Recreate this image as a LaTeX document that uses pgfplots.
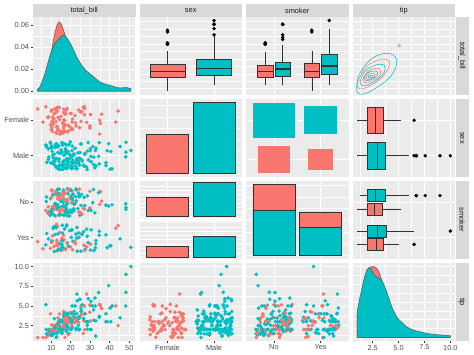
\documentclass[border=0pt]{standalone}
\usepackage{pgfplots}
\pgfplotsset{compat=1.18}
\usepackage{pgfplotstable}
\usepgfplotslibrary{statistics}
\usepackage{fontspec}
\setmainfont{Liberation Sans}
\definecolor{fem}{RGB}{248,118,109}
\definecolor{mal}{RGB}{0,191,196}
\definecolor{panelbg}{RGB}{235,235,235}
\definecolor{stripbg}{RGB}{217,217,217}
\definecolor{g20}{RGB}{51,51,51}
\definecolor{g30}{RGB}{77,77,77}
\definecolor{g10}{RGB}{26,26,26}
\definecolor{dens}{RGB}{80,80,80}
\newcommand\tickfont{\fontsize{7.4}{8.8}\selectfont}

\pgfplotstableread{
b t s k a c
16.99 1.01 1 1 0.12 -0.25
10.34 1.66 2 1 -0.27 0.31
21.01 3.50 2 1 0.35 -0.06
23.68 3.31 2 1 -0.08 0.18
24.59 3.61 1 1 0.21 -0.37
25.29 4.71 2 1 -0.33 0.09
8.77 2.00 2 1 0.04 0.27
26.88 3.12 2 1 0.29 -0.14
15.04 1.96 2 1 -0.16 0.35
14.78 3.23 2 1 0.38 -0.03
10.27 1.71 2 1 -0.22 0.22
35.26 5.00 1 1 0.09 -0.30
15.42 1.57 2 1 -0.37 0.13
18.43 3.00 2 1 0.17 0.38
14.83 3.02 1 1 0.31 -0.19
21.58 3.92 2 1 -0.05 0.05
10.33 1.67 1 1 -0.29 0.29
16.29 3.71 2 1 0.24 -0.34
16.97 3.50 1 1 0.01 0.16
20.65 3.35 2 1 -0.14 -0.09
17.92 4.08 2 1 0.36 0.02
20.29 2.75 1 1 -0.19 0.26
15.77 2.23 1 1 0.07 -0.28
39.42 7.58 2 1 -0.34 0.11
19.82 3.18 2 1 0.27 -0.36
17.81 2.34 2 1 0.13 0.33
13.37 2.00 2 1 -0.25 0.07
12.69 2.00 2 1 0.33 -0.21
21.70 4.30 2 1 -0.02 0.24
19.65 3.00 1 1 0.19 -0.12
9.55 1.45 2 1 -0.38 0.37
18.35 2.50 2 1 0.26 -0.05
15.06 3.00 1 1 -0.11 0.19
20.69 2.45 1 1 0.05 -0.32
17.78 3.27 2 1 -0.31 0.28
24.06 3.60 2 1 0.22 -0.16
16.31 2.00 2 1 0.37 0.10
16.93 3.07 1 1 -0.18 0.34
18.69 2.31 2 1 0.10 -0.24
31.27 5.00 2 1 -0.26 0.01
16.04 2.24 2 1 0.30 -0.29
17.46 2.54 2 1 -0.07 0.14
13.94 3.06 2 1 0.16 0.36
9.68 1.32 2 1 -0.35 -0.10
30.40 5.60 2 1 0.02 0.23
18.29 3.00 2 1 0.25 -0.38
22.23 5.00 2 1 -0.21 0.04
32.40 6.00 2 1 0.34 0.30
28.55 2.05 2 1 -0.13 -0.18
18.04 3.00 2 1 0.08 0.25
12.54 2.50 2 1 -0.30 0.12
10.29 2.60 1 1 0.20 -0.35
34.81 5.20 1 1 0.39 0.06
9.94 1.56 2 1 -0.24 0.27
25.56 4.34 2 1 0.11 -0.22
19.49 3.51 2 1 -0.03 0.39
38.01 3.00 2 2 0.28 -0.08
26.41 1.50 1 1 -0.36 0.17
11.24 1.76 2 2 0.15 -0.31
48.27 6.73 2 1 -0.10 0.20
20.29 3.21 2 2 0.32 -0.01
13.81 2.00 2 2 -0.28 0.32
11.02 1.98 2 2 0.06 -0.26
18.29 3.76 2 2 0.23 0.15
17.59 2.64 2 1 -0.17 0.08
20.08 3.15 2 1 0.35 -0.33
16.45 2.47 1 1 -0.01 0.24
3.07 1.00 1 2 -0.32 0.11
20.23 2.01 2 1 0.18 -0.17
15.01 2.09 2 2 0.27 0.36
12.02 1.97 2 1 -0.23 0.03
17.07 3.00 1 1 0.14 -0.27
26.86 3.14 1 2 -0.39 0.21
25.28 5.00 1 2 0.03 -0.11
14.73 2.20 1 1 0.31 0.30
10.51 1.25 2 1 -0.12 0.18
17.92 3.08 2 2 0.24 -0.36
27.20 4.00 2 1 -0.06 0.09
22.76 3.00 2 1 0.37 -0.04
17.29 2.71 2 1 -0.20 0.26
19.44 3.00 2 2 0.09 -0.20
16.66 3.40 2 1 -0.34 0.35
10.07 1.83 1 1 0.26 -0.13
32.68 5.00 2 2 -0.15 0.28
15.98 2.03 2 1 0.19 0.00
34.83 5.17 1 1 0.00 -0.30
13.03 2.00 2 1 -0.27 0.19
18.28 4.00 2 1 0.33 -0.07
24.71 5.85 2 1 -0.09 0.37
21.16 3.00 2 1 0.12 -0.23
28.97 3.00 2 2 -0.37 0.14
22.49 3.50 2 1 0.29 -0.16
5.75 1.00 1 2 0.05 0.31
16.32 4.30 1 2 -0.22 0.06
22.75 3.25 1 1 0.16 -0.38
40.17 4.73 2 2 0.38 0.22
27.28 4.00 2 2 -0.04 0.33
12.03 1.50 2 2 -0.30 -0.09
21.01 3.00 2 2 0.21 0.10
12.46 1.50 2 1 0.10 -0.28
11.35 2.50 1 2 -0.18 0.25
15.38 3.00 1 2 0.34 0.02
44.30 2.50 1 2 -0.26 -0.34
22.42 3.48 1 2 0.07 0.17
20.92 4.08 1 1 0.25 -0.12
15.36 1.64 2 2 -0.11 0.29
20.49 4.06 2 2 0.36 -0.21
25.21 4.29 2 2 -0.33 0.38
18.24 3.76 2 1 0.13 0.04
14.31 4.00 1 2 -0.02 -0.15
14.00 3.00 2 1 0.27 -0.37
7.25 1.00 1 1 -0.38 0.23
38.07 4.00 2 1 0.20 0.08
23.95 2.55 2 1 0.08 -0.26
25.71 4.00 1 1 -0.24 0.34
17.31 3.50 1 1 0.31 -0.03
29.93 5.07 2 1 -0.14 0.20
10.65 1.50 1 1 0.01 0.12
12.43 1.80 1 1 0.35 -0.31
24.08 2.92 1 1 -0.29 0.27
11.69 2.31 2 1 0.17 0.05
13.42 1.68 1 1 -0.08 -0.19
14.26 2.50 2 1 0.28 0.36
15.95 2.00 2 1 -0.35 -0.08
12.48 2.52 1 1 0.04 -0.29
29.80 4.20 1 1 0.22 0.16
8.52 1.48 2 1 -0.19 0.31
14.52 2.00 1 1 0.39 -0.14
11.38 2.00 1 1 -0.05 0.21
22.82 2.18 2 1 0.15 -0.35
19.08 1.50 2 1 -0.31 0.28
20.27 2.83 1 1 0.26 0.01
11.17 1.50 1 1 0.11 -0.22
12.26 2.00 1 1 -0.21 0.39
18.26 3.25 1 1 0.33 -0.06
8.51 1.25 1 1 -0.10 0.13
10.33 2.00 1 1 0.06 -0.32
14.15 2.00 1 1 -0.36 0.24
16.00 2.00 2 2 0.24 0.09
13.16 2.75 1 1 0.18 -0.18
17.47 3.50 1 1 -0.28 0.33
34.30 6.70 2 1 0.02 -0.27
41.19 5.00 2 1 0.37 0.07
27.05 5.00 1 1 -0.16 0.19
16.43 2.30 1 1 0.29 -0.11
8.35 1.50 1 1 -0.07 0.30
18.64 1.36 1 1 0.14 -0.37
11.87 1.63 1 1 -0.32 0.15
9.78 1.73 2 1 0.20 0.26
7.51 2.00 2 1 -0.25 -0.02
14.07 2.50 2 1 0.09 -0.24
13.13 2.00 2 1 0.34 0.10
17.26 2.74 2 1 -0.13 0.35
24.55 2.00 2 1 0.27 -0.16
19.77 2.00 2 1 -0.39 0.22
29.85 5.14 1 1 0.16 -0.31
48.17 5.00 2 1 0.03 0.04
25.00 3.75 1 1 -0.23 0.29
13.39 2.61 1 1 0.30 -0.09
16.49 2.00 2 1 -0.01 0.37
21.50 3.50 2 1 0.21 0.18
12.66 2.50 2 1 -0.34 0.06
16.21 2.00 1 1 0.12 -0.28
13.81 2.00 2 1 0.38 0.13
17.51 3.00 1 2 -0.18 0.32
24.52 3.48 2 1 0.07 -0.20
20.76 2.24 2 1 -0.27 0.25
31.71 4.50 2 1 0.25 -0.36
10.59 1.61 1 2 -0.09 0.11
10.63 2.00 1 2 0.32 -0.05
50.81 10.00 2 2 -0.15 0.27
15.81 3.16 2 2 0.19 -0.13
7.25 5.15 2 2 -0.30 0.20
31.85 3.18 2 2 0.04 0.36
16.82 4.00 2 2 0.35 -0.25
32.90 3.11 2 2 -0.21 0.08
17.89 2.00 2 2 0.28 -0.33
14.48 2.00 2 2 -0.06 0.16
9.60 4.00 1 2 0.13 0.30
34.63 3.55 2 2 -0.37 -0.07
34.65 3.68 2 2 0.23 -0.18
23.33 5.65 2 2 0.10 0.38
45.35 3.50 2 2 -0.26 0.03
23.17 6.50 2 2 0.36 -0.29
40.55 3.00 2 2 -0.12 0.23
20.69 5.00 2 1 0.30 -0.10
20.90 3.50 1 2 -0.03 0.34
30.46 2.00 2 2 0.17 -0.22
18.15 3.50 1 2 -0.33 0.14
23.10 4.00 2 2 0.08 0.01
15.69 1.50 2 2 0.26 -0.35
19.81 4.19 1 2 -0.19 0.26
28.44 2.56 2 2 0.39 -0.04
15.48 2.02 2 2 -0.08 0.19
16.58 4.00 2 2 0.14 0.31
7.56 1.44 2 1 -0.29 -0.15
10.34 2.00 2 2 0.22 0.09
43.11 5.00 1 2 0.05 -0.27
13.00 2.00 1 2 -0.36 0.37
13.51 2.00 2 2 0.31 -0.11
18.71 4.00 2 2 -0.11 0.24
12.74 2.01 1 2 0.18 -0.38
13.00 2.00 1 2 -0.24 0.12
16.40 2.50 1 2 0.33 0.05
20.53 4.00 2 2 0.01 -0.23
16.47 3.23 1 2 -0.31 0.33
26.59 3.41 2 2 0.27 -0.17
38.73 3.00 2 2 -0.14 0.28
24.27 2.03 2 2 0.09 -0.01
12.76 2.23 1 2 0.37 0.20
30.06 2.00 2 2 -0.20 0.35
25.89 5.16 2 2 0.15 -0.09
48.33 9.00 2 1 -0.38 0.15
13.27 2.50 1 2 0.24 -0.32
28.17 6.50 1 2 0.06 0.26
12.90 1.10 1 2 -0.27 0.07
28.15 3.00 2 2 0.32 -0.24
11.59 1.50 2 2 -0.04 0.39
7.74 1.44 2 2 0.19 -0.12
30.14 3.09 1 2 -0.16 0.18
12.16 2.20 2 2 0.29 -0.30
13.42 3.48 1 2 -0.35 0.22
8.58 1.92 2 2 0.11 0.03
15.98 3.00 1 1 0.36 -0.19
13.42 1.58 2 2 -0.09 0.34
16.27 2.50 1 2 0.21 -0.06
10.09 2.00 1 2 -0.25 0.13
20.45 3.00 2 1 0.03 0.29
13.28 2.72 2 1 0.34 -0.36
22.12 2.88 1 2 -0.13 0.10
24.01 2.00 2 2 0.16 -0.14
15.69 3.00 2 2 -0.30 0.25
11.61 3.39 2 1 0.25 0.37
10.77 1.47 2 1 -0.02 -0.21
15.53 3.00 2 2 0.38 0.08
10.07 1.25 2 1 -0.22 0.31
12.60 1.00 2 2 0.07 -0.28
32.83 1.17 2 2 0.28 0.17
35.83 4.67 1 1 -0.17 -0.03
29.03 5.92 2 1 0.12 0.23
27.18 2.00 1 2 -0.33 0.36
22.67 2.00 2 2 0.20 -0.10
17.82 1.75 2 1 -0.07 0.19
18.78 3.00 1 1 0.31 -0.33
}\tips

\pgfplotsset{
 colormap={fm}{rgb255=(248,118,109) rgb255=(0,191,196)},
 gg/.style={
  scale only axis, width=102.5pt, height=78pt, anchor=north west,
  enlargelimits=false,
  axis line style={draw=none},
  axis background/.style={fill=panelbg},
  grid=both,
  major grid style={white, line width=0.8pt},
  minor grid style={white, line width=0.4pt},
  tick align=outside, major tick length=2.5pt, minor tick length=0pt,
  xtick pos=lower, ytick pos=left,
  xtick style={draw=none}, ytick style={draw=none},
  xticklabels={}, yticklabels={},
  tick label style={font=\tickfont, text=g30, inner sep=1.2pt},
  colormap name=fm, point meta min=1, point meta max=2,
 },
 showx/.style={xtick style={draw=g20, line width=0.5pt}},
 showy/.style={ytick style={draw=g20, line width=0.5pt}},
 xbill/.style={xmin=0.68, xmax=53.2, xtick={10,20,30,40,50}, minor xtick={5,15,25,35,45}},
 xtip/.style={xmin=0.55, xmax=10.45, xtick={2.5,5,7.5,10}, minor xtick={1.25,3.75,6.25,8.75}},
 xcat/.style={xmin=0.4, xmax=2.6, xtick={1,2}},
 ybill/.style={ymin=0.68, ymax=53.2, ytick={10,20,30,40,50}, minor ytick={5,15,25,35,45}},
 ytip/.style={ymin=0.55, ymax=10.45, ytick={2.5,5,7.5,10}, minor ytick={1.25,3.75,6.25,8.75}},
 ycat/.style={ymin=0.4, ymax=2.6, ytick={1,2}, y dir=reverse},
 pts/.style={scatter, only marks, mark=*, mark size=1.65pt, scatter src=explicit,
   scatter/use mapped color={draw=mapped color, fill=mapped color}},
 bx/.style={draw=g20, line width=0.5pt, boxplot/whisker extend=0,
   boxplot/every median/.style={line width=1.2pt}},
 out/.style={only marks, mark=*, mark size=1.55pt, black},
 ct/.style={line width=0.55pt, smooth, tension=0.5},
 bar/.style={ybar, bar width=0.9, bar shift=0pt, draw=g20, line width=0.4pt},
}

\begin{document}
\begin{tikzpicture}
% ---------------- row 1 ----------------
\begin{axis}[gg, at={(33pt,338pt)}, xbill, ymin=-0.0035, ymax=0.0677,
  ytick={0,0.02,0.04,0.06}, minor ytick={0.01,0.03,0.05},
  yticklabels={0.00,0.02,0.04,0.06}, showy]
\addplot[fill=fem, draw=dens, line width=0.45pt] coordinates {
(3.07,0.0020) (4.5,0.0035) (6.0,0.0070) (7.0,0.0115) (8.0,0.0180) (9.0,0.0260)
(10.0,0.0350) (11.0,0.0450) (12.0,0.0540) (13.0,0.0605) (14.0,0.0633) (15.0,0.0620)
(16.0,0.0575) (17.0,0.0520) (18.0,0.0470) (19.0,0.0430) (20.0,0.0390) (21.0,0.0345)
(22.0,0.0300) (23.0,0.0260) (24.0,0.0220) (25.0,0.0190) (26.0,0.0165) (27.0,0.0148)
(28.0,0.0135) (29.0,0.0125) (30.0,0.0112) (31.0,0.0095) (32.0,0.0082) (33.0,0.0078)
(34.0,0.0078) (35.0,0.0075) (36.0,0.0062) (37.0,0.0045) (38.0,0.0030) (39.0,0.0020)
(40.0,0.0015) (41.0,0.0015) (42.0,0.0018) (43.0,0.0021) (44.0,0.0020) (45.0,0.0014)
(46.0,0.0008) (47.0,0.0004) (48.0,0.0002) (50.81,0.0000)} \closedcycle;
\addplot[fill=mal, draw=dens, line width=0.45pt] coordinates {
(3.07,0.0010) (4.26,0.0040) (5.5,0.0095) (6.82,0.0161) (8.1,0.0245) (9.38,0.0329)
(10.66,0.0388) (11.94,0.0435) (13.22,0.0466) (14.5,0.0487) (15.35,0.0502) (16.21,0.0511)
(17.2,0.0502) (18.26,0.0481) (19.37,0.0450) (20.48,0.0414) (21.76,0.0365) (23.04,0.0314)
(24.32,0.0273) (25.6,0.0237) (26.88,0.0208) (28.16,0.0183) (29.44,0.0163) (30.72,0.0146)
(32.0,0.0126) (33.28,0.0107) (34.56,0.0090) (35.84,0.0076) (37.12,0.0068) (38.4,0.0061)
(39.68,0.0055) (40.96,0.0049) (42.24,0.0041) (43.52,0.0034) (44.8,0.0031) (46.08,0.0030)
(47.36,0.0032) (48.64,0.0034) (49.8,0.0028) (50.81,0.0022)} \closedcycle;
\end{axis}

\begin{axis}[gg, at={(139.5pt,338pt)}, xcat, ybill, boxplot/draw direction=y]
\addplot[bx, fill=fem, boxplot prepared={draw position=1, lower whisker=3.07, lower quartile=12.75,
  median=16.40, upper quartile=21.52, upper whisker=30.14, box extend=0.75}] coordinates {};
\addplot[bx, fill=mal, boxplot prepared={draw position=2, lower whisker=7.25, lower quartile=14.00,
  median=18.35, upper quartile=24.71, upper whisker=40.55, box extend=0.75}] coordinates {};
\addplot[out] coordinates {(1,34.81) (1,34.83) (1,35.26) (1,35.83) (1,43.11) (1,44.30)
  (2,41.19) (2,45.35) (2,48.17) (2,48.27) (2,48.33) (2,50.81)};
\end{axis}

\begin{axis}[gg, at={(246pt,338pt)}, xcat, ybill, boxplot/draw direction=y]
\addplot[bx, fill=fem, boxplot prepared={draw position=0.8125, lower whisker=7.25, lower quartile=12.3,
  median=16.6, upper quartile=20.4, upper whisker=29.85, box extend=0.3375}] coordinates {};
\addplot[bx, fill=mal, boxplot prepared={draw position=1.1875, lower whisker=7.51, lower quartile=13.5,
  median=18.24, upper quartile=22.4, upper whisker=34.3, box extend=0.3375}] coordinates {};
\addplot[bx, fill=fem, boxplot prepared={draw position=1.8125, lower whisker=3.07, lower quartile=12.3,
  median=16.27, upper quartile=21.9, upper whisker=30.14, box extend=0.3375}] coordinates {};
\addplot[bx, fill=mal, boxplot prepared={draw position=2.1875, lower whisker=7.25, lower quartile=14.8,
  median=20.2, upper quartile=28.3, upper whisker=45.35, box extend=0.3375}] coordinates {};
\addplot[out] coordinates {(0.8125,34.81) (0.8125,34.83) (0.8125,35.26) (0.8125,35.83)
  (1.1875,38.07) (1.1875,39.42) (1.1875,41.19) (1.1875,48.17) (1.1875,48.27) (1.1875,48.33)
  (1.8125,43.11) (1.8125,44.30) (2.1875,50.81)};
\end{axis}

\begin{axis}[gg, at={(352.5pt,338pt)}, xtip, ybill]
\addplot[ct, fem] coordinates {(1.017,8.54) (1.436,15.27) (2.08,20.88) (2.885,23.80) (3.69,24.92)
  (4.108,23.13) (4.011,18.64) (3.529,13.70) (2.885,9.66) (2.08,6.30) (1.436,4.73) (1.081,5.62) (1.017,8.54)};
\addplot[ct, fem] coordinates {(1.532,10.78) (1.854,15.27) (2.401,17.97) (3.046,18.64) (3.271,16.40)
  (3.046,13.03) (2.401,10.11) (1.758,8.99) (1.532,10.78)};
\addplot[ct, fem] coordinates {(1.854,12.36) (2.176,14.82) (2.627,15.27) (2.691,13.25) (2.305,11.46)
  (1.919,11.23) (1.854,12.36)};
\addplot[ct, fem] coordinates {(4.95,33.9) (5.07,34.8) (5.19,33.9) (5.07,33.0) (4.95,33.9)};
\addplot[ct, mal] coordinates {(0.953,6.30) (1.114,13.03) (1.597,19.09) (2.24,24.25) (3.046,27.62)
  (3.85,28.74) (4.494,27.62) (4.816,24.25) (4.752,19.76) (4.333,14.15) (3.69,9.66) (2.885,5.62)
  (2.08,2.48) (1.436,1.13) (1.017,2.48) (0.953,6.30)};
\addplot[ct, mal] coordinates {(1.275,9.66) (1.597,15.27) (2.24,19.09) (3.046,21.33) (3.593,20.88)
  (3.69,17.52) (3.368,13.70) (2.724,10.11) (1.983,7.42) (1.436,6.97) (1.275,9.66)};
\addplot[ct, mal] coordinates {(1.661,11.91) (1.983,15.27) (2.498,16.84) (2.949,16.40) (2.885,13.70)
  (2.401,11.23) (1.854,10.33) (1.661,11.91)};
\addplot[ct, mal] coordinates {(2.08,13.03) (2.305,14.15) (2.498,13.70) (2.369,12.36) (2.112,12.13) (2.08,13.03)};
\end{axis}

% ---------------- row 2 ----------------
\begin{axis}[gg, at={(33pt,256pt)}, xbill, ycat, yticklabels={Female,Male}, showy]
\addplot[pts] table[x=b, y expr=\thisrow{s}+\thisrow{a}, meta=s] {\tips};
\end{axis}

\begin{axis}[gg, at={(139.5pt,256pt)}, xcat, ymin=-7.85, ymax=164.85,
  ytick={0,50,100,150}, minor ytick={25,75,125}]
\addplot[bar, fill=fem] coordinates {(1,87)};
\addplot[bar, fill=mal] coordinates {(2,157)};
\end{axis}

\begin{axis}[gg, at={(246pt,256pt)}, xcat, ymin=0.56, ymax=2.54, ytick={1,2}]
\addplot[fill=mal, draw=none] coordinates {(0.55,1.55) (1.45,1.55) (1.45,2.45) (0.55,2.45)} -- cycle;
\addplot[fill=mal, draw=none] coordinates {(1.646,1.646) (2.354,1.646) (2.354,2.354) (1.646,2.354)} -- cycle;
\addplot[fill=fem, draw=none] coordinates {(0.664,0.664) (1.336,0.664) (1.336,1.336) (0.664,1.336)} -- cycle;
\addplot[fill=fem, draw=none] coordinates {(1.7375,0.7375) (2.2625,0.7375) (2.2625,1.2625) (1.7375,1.2625)} -- cycle;
\end{axis}

\begin{axis}[gg, at={(352.5pt,256pt)}, xtip, ycat, boxplot/draw direction=x]
\addplot[bx, fill=fem, boxplot prepared={draw position=1, lower whisker=1.0, lower quartile=2.0,
  median=2.75, upper quartile=3.5, upper whisker=5.2, box extend=0.75}] coordinates {};
\addplot[bx, fill=mal, boxplot prepared={draw position=2, lower whisker=1.0, lower quartile=2.0,
  median=3.0, upper quartile=3.76, upper whisker=6.0, box extend=0.75}] coordinates {};
\addplot[out] coordinates {(6.5,1) (6.5,2) (6.7,2) (6.73,2) (7.58,2) (9.0,2) (10.0,2)};
\end{axis}

% ---------------- row 3 ----------------
\begin{axis}[gg, at={(33pt,174pt)}, xbill, ycat, yticklabels={No,Yes}, showy]
\addplot[pts] table[x=b, y expr=\thisrow{k}+\thisrow{c}, meta=s] {\tips};
\end{axis}

\begin{axis}[gg, at={(139.5pt,174pt)}, height=37.15pt, xcat, ymin=-4.85, ymax=101.85,
  ytick={0,25,50,75}, minor ytick={12.5,37.5,62.5,87.5}]
\addplot[bar, fill=fem] coordinates {(1,54)};
\addplot[bar, fill=mal] coordinates {(2,97)};
\end{axis}
\begin{axis}[gg, at={(139.5pt,133.15pt)}, height=37.15pt, xcat, ymin=-4.85, ymax=101.85,
  ytick={0,25,50,75}, minor ytick={12.5,37.5,62.5,87.5}]
\addplot[bar, fill=fem] coordinates {(1,33)};
\addplot[bar, fill=mal] coordinates {(2,60)};
\end{axis}

\begin{axis}[gg, at={(246pt,174pt)}, xcat, ymin=-7.55, ymax=158.55,
  ytick={0,50,100,150}, minor ytick={25,75,125}]
\addplot[bar, fill=fem] coordinates {(1,151) (2,93)};
\addplot[bar, fill=mal] coordinates {(1,97) (2,60)};
\end{axis}

\begin{axis}[gg, at={(352.5pt,174pt)}, xtip, ycat, boxplot/draw direction=x]
\addplot[bx, fill=mal, boxplot prepared={draw position=0.8125, lower whisker=1.25, lower quartile=2.0,
  median=2.74, upper quartile=3.71, upper whisker=6.0, box extend=0.3375}] coordinates {};
\addplot[bx, fill=fem, boxplot prepared={draw position=1.1875, lower whisker=1.0, lower quartile=2.0,
  median=2.68, upper quartile=3.44, upper whisker=5.2, box extend=0.3375}] coordinates {};
\addplot[bx, fill=mal, boxplot prepared={draw position=1.8125, lower whisker=1.0, lower quartile=2.0,
  median=3.0, upper quartile=3.82, upper whisker=6.5, box extend=0.3375}] coordinates {};
\addplot[bx, fill=fem, boxplot prepared={draw position=2.1875, lower whisker=1.0, lower quartile=2.0,
  median=2.88, upper quartile=3.5, upper whisker=5.0, box extend=0.3375}] coordinates {};
\addplot[out] coordinates {(6.7,0.8125) (6.73,0.8125) (7.58,0.8125) (9.0,0.8125)
  (10.0,1.8125) (6.5,2.1875)};
\end{axis}

% ---------------- row 4 ----------------
\begin{axis}[gg, at={(33pt,92pt)}, xbill, ytip, showx, showy,
  xticklabels={10,20,30,40,50}, yticklabels={2.5,5.0,7.5,10.0}]
\addplot[pts] table[x=b, y=t, meta=s] {\tips};
\end{axis}

\begin{axis}[gg, at={(139.5pt,92pt)}, xcat, ytip, showx, xticklabels={Female,Male}]
\addplot[pts] table[x expr=\thisrow{s}+\thisrow{c}, y=t, meta=s] {\tips};
\end{axis}

\begin{axis}[gg, at={(246pt,92pt)}, xcat, ytip, showx, xticklabels={No,Yes}]
\addplot[pts] table[x expr=\thisrow{k}+\thisrow{a}, y=t, meta=s] {\tips};
\end{axis}

\begin{axis}[gg, at={(352.5pt,92pt)}, xtip, showx, xticklabels={2.5,5.0,7.5,10.0},
  ymin=-0.05, ymax=1.05, ytick={0,0.25,0.5,0.75,1}, minor ytick={0.125,0.375,0.625,0.875}]
\addplot[fill=fem, draw=dens, line width=0.45pt] coordinates {
(1.0,0.30) (1.25,0.48) (1.5,0.66) (1.75,0.82) (1.95,0.93) (2.2,0.99) (2.45,1.0) (2.7,0.995)
(2.9,0.975) (3.1,0.92) (3.3,0.84) (3.5,0.74) (3.7,0.64) (3.9,0.56) (4.1,0.48) (4.3,0.40)
(4.55,0.33) (4.8,0.27) (5.05,0.21) (5.3,0.16) (5.55,0.12) (5.8,0.09) (6.1,0.07) (6.4,0.06)
(6.7,0.045) (7.0,0.03) (7.5,0.017) (8.0,0.01) (9.0,0.003) (10.0,0.001)} \closedcycle;
\addplot[fill=mal, draw=dens, line width=0.45pt] coordinates {
(1.0,0.36) (1.2,0.52) (1.44,0.68) (1.7,0.85) (1.92,0.95) (2.1,0.98) (2.3,0.97) (2.56,0.90)
(2.9,0.85) (3.2,0.83) (3.4,0.80) (3.6,0.74) (3.85,0.645) (4.1,0.54) (4.33,0.435) (4.6,0.35)
(4.82,0.29) (5.05,0.25) (5.3,0.215) (5.55,0.18) (5.78,0.15) (6.1,0.125) (6.43,0.105) (6.75,0.09)
(7.07,0.08) (7.55,0.063) (8.04,0.05) (8.5,0.042) (9.0,0.036) (9.5,0.03) (10.0,0.026)} \closedcycle;
\end{axis}

% ---------------- strips ----------------
\begin{scope}[every node/.style={font=\tickfont, text=g10, inner sep=0pt}]
\fill[stripbg] (33pt,338pt) rectangle (135.5pt,351pt);
\node at (84.25pt,344.5pt) {total\_bill};
\fill[stripbg] (139.5pt,338pt) rectangle (242pt,351pt);
\node at (190.75pt,344.5pt) {sex};
\fill[stripbg] (246pt,338pt) rectangle (348.5pt,351pt);
\node at (297.25pt,344.5pt) {smoker};
\fill[stripbg] (352.5pt,338pt) rectangle (455pt,351pt);
\node at (403.75pt,344.5pt) {tip};
\fill[stripbg] (455.5pt,260pt) rectangle (468.5pt,338pt);
\node[rotate=-90] at (462pt,299pt) {total\_bill};
\fill[stripbg] (455.5pt,178pt) rectangle (468.5pt,256pt);
\node[rotate=-90] at (462pt,217pt) {sex};
\fill[stripbg] (455.5pt,96pt) rectangle (468.5pt,174pt);
\node[rotate=-90] at (462pt,135pt) {smoker};
\fill[stripbg] (455.5pt,14pt) rectangle (468.5pt,92pt);
\node[rotate=-90] at (462pt,53pt) {tip};
\end{scope}
\pgfresetboundingbox
\useasboundingbox (0,0) rectangle (474pt,355pt);
\end{tikzpicture}
\end{document}
